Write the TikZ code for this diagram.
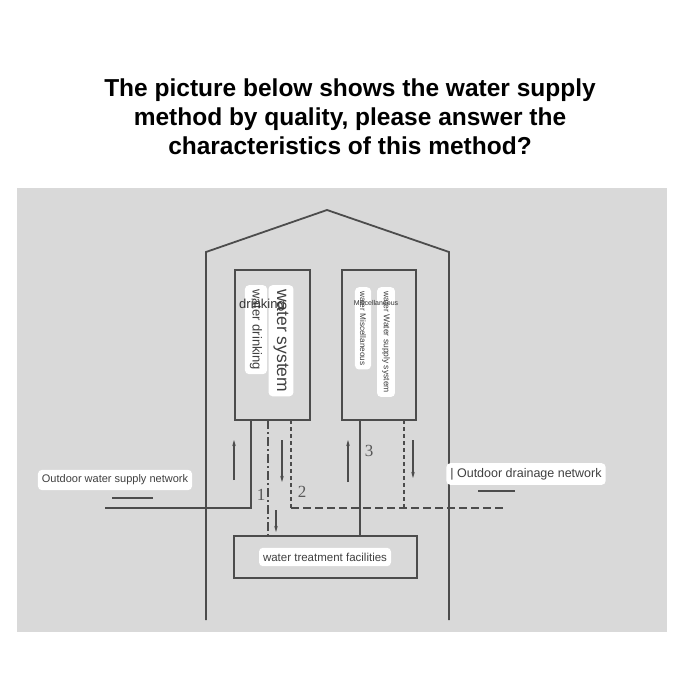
\documentclass[tikz,border=0pt]{standalone}
\usepackage{fontspec}
\setmainfont{Liberation Sans}
\usetikzlibrary{arrows.meta}
\begin{document}
\begin{tikzpicture}[x=1pt,y=-1pt,
  wall/.style={draw=black!70,line width=1.8pt},
  lbl/.style={fill=white,rounded corners=4pt,text=black!75,inner xsep=4pt,inner ysep=5pt},
  arr/.style={draw=black!70,line width=1.4pt,-{Stealth[length=6pt,width=3.5pt]}},
  num/.style={text=black!65,font=\fontspec{Liberation Serif}\fontsize{17}{17}\selectfont}]
\useasboundingbox (0,0) rectangle (700,700);
\fill[white] (0,0) rectangle (700,700);
\fill[black!15] (17,188) rectangle (667,632);
\node[font=\bfseries\fontsize{24.5}{29}\selectfont,align=center] (title) at (350,117)
 {The picture below shows the water supply\\method by quality, please answer the\\characteristics of this method?};
% house
\draw[wall] (206,620) -- (206,252) -- (327,210) -- (449,252) -- (449,620);
\node[wall,minimum width=75pt,minimum height=150pt,inner sep=0] (lb) at (272.5,345) {};
\node[wall,minimum width=74pt,minimum height=150pt,inner sep=0] (rb) at (379,345) {};
\node[wall,minimum width=183pt,minimum height=42pt,inner sep=0] (tb) at (325.5,557) {};
% pipes
\coordinate (s0) at (105,508);
\coordinate (s1) at (251,508);
\draw[wall] (s0) -- (s1) -- (251,420);
\draw[wall,dash pattern=on 9pt off 3pt on 2pt off 3pt] (268,420) -- (268,536);
\coordinate (d1) at (291,508);
\coordinate (dend) at (503,508);
\draw[wall,line width=2.3pt,dash pattern=on 4pt off 3pt] (291,420) -- (d1);
\draw[wall,line width=2.3pt,dash pattern=on 8pt off 4pt] (d1) -- (dend);
\draw[wall,line width=2.3pt,dash pattern=on 4pt off 3pt] (404,420) -- (404,508);
\draw[wall] (360,420) -- (360,536);
% arrows
\draw[arr] (234,480) -- (234,440);
\draw[arr] (282,440) -- (282,482);
\draw[arr] (276,510) -- (276,532);
\draw[arr] (348,482) -- (348,440);
\draw[arr] (413,440) -- (413,478);
\draw[draw=black!70,line width=1.3pt] (112,498) -- (153,498);
\draw[draw=black!70,line width=1.3pt] (478,491) -- (515,491);
\node[num] (n1) at (261,495) {1};
\node[num] (n2) at (302,492) {2};
\node[num] (n3) at (369,451) {3};
% labels
\node[lbl,font=\fontsize{11}{13}\selectfont] (ls) at (115,480) {Outdoor water supply network};
\node[lbl,font=\fontsize{12.5}{14}\selectfont] (ld) at (526,474) {| Outdoor drainage network};
\node[lbl,font=\fontsize{11.5}{13}\selectfont] (lt) at (325,557) {water treatment facilities};
\node[lbl,rotate=-90,font=\fontsize{13}{14}\selectfont,anchor=west] (w1) at (256,285) {water drinking};
\node[lbl,rotate=-90,font=\fontsize{17.5}{19}\selectfont,anchor=west] (w2) at (281,285) {water system};
\node[text=black!80,font=\fontsize{13}{14}\selectfont,inner sep=0] (w3) at (262,305) {drinking};
\node[lbl,rotate=-90,font=\fontsize{8.2}{9}\selectfont,anchor=west] (m1) at (363,287) {water Miscellaneous};
\node[lbl,rotate=-90,font=\fontsize{8.5}{9}\selectfont,anchor=west] (m2) at (386,287) {water Water supply system};
\node[text=black!80,font=\fontsize{7}{8}\selectfont,inner sep=0] (m3) at (376,303) {Miscellaneous};
\end{tikzpicture}
\end{document}
